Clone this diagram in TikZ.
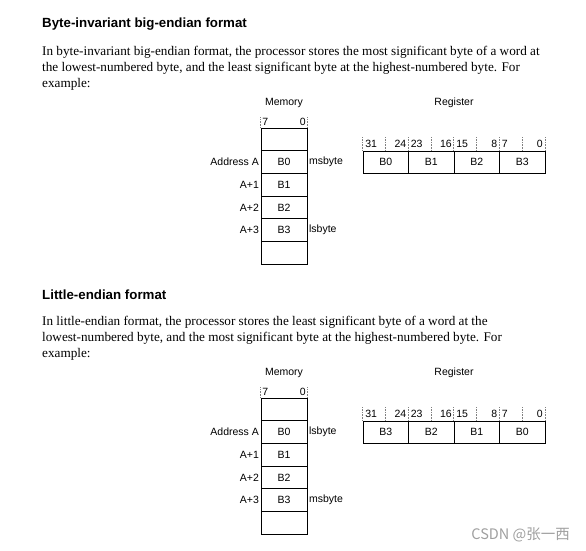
\documentclass[tikz,border=0pt]{standalone}
\usepackage{fontspec}
\setmainfont{Liberation Serif}
\setsansfont{Liberation Sans}
\newfontfamily\cjk{Noto Sans CJK SC}
\usetikzlibrary{calc}

\begin{document}
\begin{tikzpicture}[x=1pt, y=-1pt,
    head/.style={anchor=base west, inner sep=0, font=\sffamily\bfseries\fontsize{13.3}{15}\selectfont},
    para/.style={anchor=base west, inner sep=0, font=\fontsize{13.2}{15}\selectfont},
    lab/.style={inner sep=1.5pt, font=\sffamily\fontsize{10.5}{12}\selectfont},
    mcell/.style={draw, line width=0.8pt, minimum width=46pt, minimum height=22.67pt, inner sep=0, font=\sffamily\fontsize{10.5}{12}\selectfont},
    rcell/.style={draw, line width=0.8pt, minimum width=45.5pt, minimum height=22pt, inner sep=0, font=\sffamily\fontsize{10.5}{12}\selectfont},
    tick/.style={densely dotted, gray, line width=0.6pt},
    wmark/.style={inner sep=0, text=gray!75, font=\cjk\fontsize{14.5}{16}\selectfont}]
            \useasboundingbox (0,0) rectangle (586,550);
            % text
            \node[head] (h1) at (42,27.3) {Byte-invariant big-endian format};
            \node[para] (p1a) at (42,55) {In byte-invariant big-endian format, the processor stores the most significant byte of a word at};
            \node[para] (p1b) at (42,71) {the lowest-numbered byte, and the least significant byte at the highest-numbered byte. For};
            \node[para] (p1c) at (42,87) {example:};
            \node[head] (h2) at (42,299.8) {Little-endian format};
            \node[para] (p2a) at (42,325.5) {In little-endian format, the processor stores the least significant byte of a word at the};
            \node[para] (p2b) at (42,341.5) {lowest-numbered byte, and the most significant byte at the highest-numbered byte. For};
            \node[para] (p2c) at (42,357.5) {example:};
            % diagrams
            \foreach \b/\dy/\s/\top/\bot in {1/0/0/msbyte/lsbyte, 2/270/3/lsbyte/msbyte} {
                \node[lab] (mem\b) at (284,102.5+\dy) {Memory};
                \node[lab] (reg\b) at (454,102.5+\dy) {Register};
                \foreach \i/\t in {0/,1/B0,2/B1,3/B2,4/B3,5/} {
                    \pgfmathsetmacro{\y}{139.33+22.67*\i+\dy}
                    \node[mcell] (m\b-\i) at (284,\y) {\t};
                }
                \foreach \i/\t in {1/Address A,2/A+1,3/A+2,4/A+3} {
                    \node[lab, anchor=east] (a\b-\i) at (m\b-\i.west) {\t};
                }
                \node[lab, anchor=west] (top\b) at (m\b-1.east) {\top};
                \node[lab, anchor=west] (bot\b) at (m\b-4.east) {\bot};
                \node[lab, anchor=south west] (hm\b) at (m\b-0.north west) {7};
                \node[lab, anchor=south east] (lm\b) at (m\b-0.north east) {0};
                \draw[tick] (m\b-0.north west) -- ++(0,-11);
                \draw[tick] (m\b-0.north east) -- ++(0,-11);
                \foreach \j in {0,...,3} {
                    \pgfmathsetmacro{\x}{385.75+45.5*\j}
                    \pgfmathtruncatemacro{\n}{abs(\s-\j)}
                    \pgfmathtruncatemacro{\hi}{31-8*\j}
                    \pgfmathtruncatemacro{\lo}{24-8*\j}
                    \node[rcell] (r\b-\j) at (\x,162+\dy) {B\n};
                    \node[lab, anchor=south west, inner sep=2.5pt] (hr\b-\j) at (r\b-\j.north west) {\hi};
                    \node[lab, anchor=south east, inner sep=2.5pt] (lr\b-\j) at (r\b-\j.north east) {\lo};
                    \draw[tick] (r\b-\j.north west) -- ++(0,-14);
                    \draw[tick] (r\b-\j.north) -- ++(0,-14);
                }
                \draw[tick] (r\b-3.north east) -- ++(0,-14);
            }
            \node[wmark, anchor=east] (csdn) at (570,534.5) {CSDN @张一西};
        \end{tikzpicture}
\end{document}
